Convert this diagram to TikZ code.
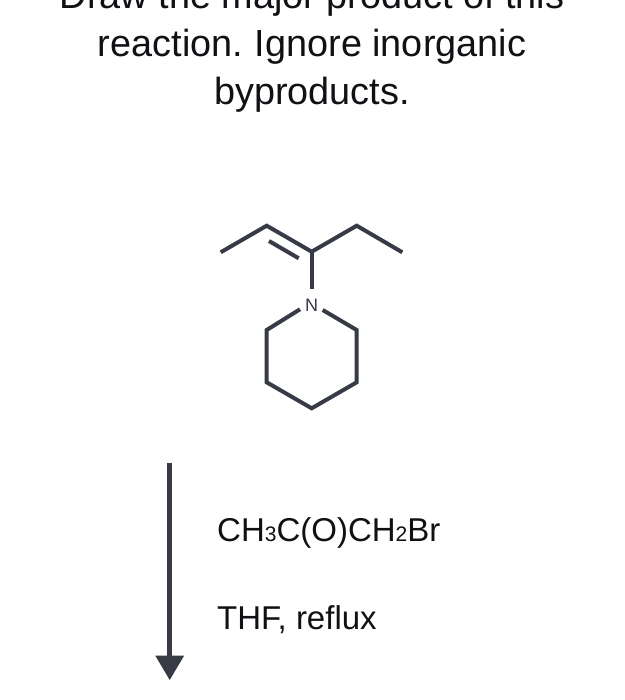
\documentclass[tikz,border=0pt]{standalone}
\usepackage{fontspec}
\setmainfont{Liberation Sans}
\definecolor{bondcol}{HTML}{373B46}
\definecolor{textcol}{HTML}{101114}
\newcommand{\lowdigit}[1]{{\fontsize{21}{21}\selectfont #1}}
\tikzset{
  x=1pt,y=-1pt,
  bond/.style={draw=bondcol,line width=4pt,line join=miter,line cap=butt},
  titletext/.style={text=textcol,font=\fontsize{37.8}{48}\selectfont,inner sep=0pt,anchor=base},
  reagent/.style={text=textcol,font=\fontsize{33}{40}\selectfont,inner sep=0pt,anchor=base west},
  atom/.style={text=bondcol,font=\fontsize{18}{20}\selectfont,inner sep=0pt},
  rxnshaft/.style={draw=bondcol,line width=5.2pt},
  rxnhead/.style={fill=bondcol,draw=none}
}
\begin{document}
\begin{tikzpicture}
\useasboundingbox (0,0) rectangle (624,700);
\fill[white] (0,0) rectangle (624,700);
\begin{scope}
\clip (0,0) rectangle (624,700);
\node[titletext] (t1) at (312,9) {Draw the major product of this};
\end{scope}
\node[titletext] (t2) at (312,57) {reaction.\hspace{-2pt} Ignore inorganic};
\node[titletext] (t3) at (312,105) {byproducts.};
% molecule
\coordinate (me1) at (220.7,252.3);
\coordinate (c2) at (266.7,225.7);
\coordinate (c3) at (311.7,251.7);
\coordinate (c4) at (356.7,225.7);
\coordinate (me2) at (402.3,252.3);
\coordinate (d1) at (269,241);
\coordinate (d2) at (298.7,258.3);
\coordinate (nc) at (311.7,289);
\node[atom] (n) at (311.7,305) {N};
\coordinate (nl) at (300,309.3);
\coordinate (nr) at (322.7,310);
\coordinate (r1) at (266.7,330);
\coordinate (r2) at (266.7,382.3);
\coordinate (r3) at (311.7,408.3);
\coordinate (r4) at (356.7,382.3);
\coordinate (r5) at (356.7,330);
\draw[bond] (me1) -- (c2) -- (c3) -- (c4) -- (me2);
\draw[bond] (d1) -- (d2);
\draw[bond] (c3) -- (nc);
\draw[bond] (nl) -- (r1) -- (r2) -- (r3) -- (r4) -- (r5) -- (nr);
% arrow
\coordinate (a0) at (169.7,462.7);
\coordinate (a1) at (169.7,657);
\coordinate (hl) at (155.3,655.7);
\coordinate (hr) at (184.1,655.7);
\coordinate (tip) at (169.7,680);
\draw[rxnshaft] (a0) -- (a1);
\fill[rxnhead] (hl) -- (hr) -- (tip) -- cycle;
% reagents
\node[reagent] (r) at (217,541) {CH\lowdigit{3}C(O)CH\lowdigit{2}Br};
\node[reagent] (s) at (217,629) {THF, reflux};
\end{tikzpicture}
\end{document}
